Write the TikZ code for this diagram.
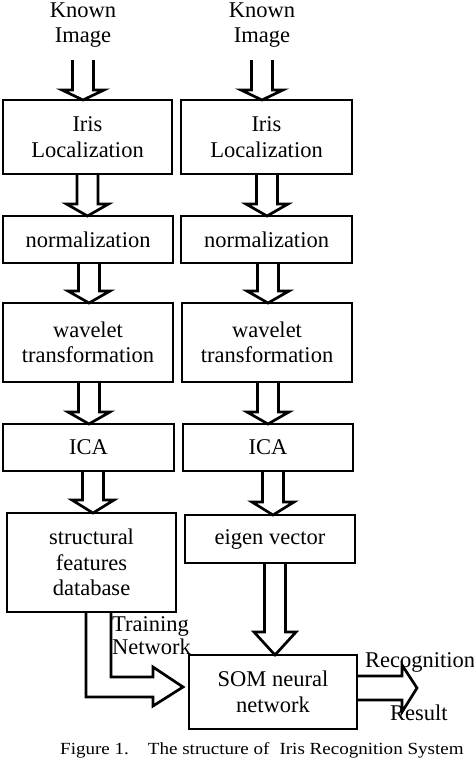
\documentclass[tikz,border=0pt]{standalone}
\usepackage{fontspec}
\setmainfont{Liberation Serif}
\newfontfamily\capfont[FakeStretch=1.12]{Liberation Serif}
\usetikzlibrary{calc}

\newcommand{\flowdown}[4]{%
	\draw[flow] let \p1=(#3.south), \p2=(#4.north) in
		(\x1+#1-10.5,\y1) -- (\x1+#1-10.5,\y2+#2) -- (\x1+#1-21,\y2+#2) -- (\x1+#1,\y2)
		-- (\x1+#1+21,\y2+#2) -- (\x1+#1+10.5,\y2+#2) -- (\x1+#1+10.5,\y1);
}

\begin{document}
\begin{tikzpicture}[x=1pt, y=1pt,
		every node/.style={font=\fontsize{22.5}{25.5}\selectfont},
		box/.style={draw, line width=2.9pt, inner sep=0pt, outer sep=0pt, align=center},
		flow/.style={line width=2.7pt, line join=miter}]
		\useasboundingbox (0,0) rectangle (474,-758);

		\node[align=center, inner xsep=0pt, inner ysep=12pt, anchor=south] (known1) at (83,-60) {Known\\Image};
		\node[align=center, inner xsep=0pt, inner ysep=12pt, anchor=south] (known2) at (262,-60) {Known\\Image};

		\node[box, minimum width=169pt, minimum height=74pt] (iris1) at (87.5,-137) {Iris\\Localization};
		\node[box, minimum width=171pt, minimum height=74pt] (iris2) at (266.5,-137) {Iris\\Localization};
		\node[box, minimum width=170pt, minimum height=47pt] (norm1) at (88,-239.5) {normalization};
		\node[box, minimum width=171pt, minimum height=47pt] (norm2) at (266.5,-239.5) {normalization};
		\node[box, minimum width=170pt, minimum height=79pt] (wave1) at (88,-342.5) {wavelet\\transformation};
		\node[box, minimum width=170pt, minimum height=79pt] (wave2) at (267,-342.5) {wavelet\\transformation};
		\node[box, minimum width=171pt, minimum height=47pt] (ica1) at (88.5,-447.5) {ICA};
		\node[box, minimum width=170pt, minimum height=47pt] (ica2) at (268,-447.5) {ICA};
		\node[box, minimum width=169pt, minimum height=99pt] (struct) at (91.5,-562.5) {structural\\features\\database};
		\node[box, minimum width=170pt, minimum height=48pt] (eigen) at (270,-539) {eigen vector};
		\node[box, minimum width=168pt, minimum height=74pt] (som) at (273,-692) {SOM neural\\network};
		\coordinate (result) at (417,-688);

		\node[align=left, inner sep=0pt, anchor=west, font=\fontsize{22.5}{23.3}\selectfont] (train) at (112,-636) {Training\\Network};
		\node[inner sep=0pt, anchor=base west] (recog) at (365,-667) {Recognition};
		\node[inner sep=0pt, anchor=base west] (res) at (390,-720) {Result};
		\node[inner sep=0pt, anchor=base west, font=\capfont\fontsize{17}{20}\selectfont] (caption) at (60,-754)
			{Figure 1.\hspace{19pt}The structure of\hspace{10pt}Iris Recognition System};

		\flowdown{0}{10}{known1}{iris1}
		\flowdown{0}{10}{known2}{iris2}
		\flowdown{0}{12}{iris1}{norm1}
		\flowdown{0.5}{12}{iris2}{norm2}
		\flowdown{1}{12}{norm1}{wave1}
		\flowdown{1.5}{12}{norm2}{wave2}
		\flowdown{1}{12}{wave1}{ica1}
		\flowdown{1}{12}{wave2}{ica2}
		\flowdown{4.5}{13}{ica1}{struct}
		\flowdown{5}{13}{ica2}{eigen}
		\flowdown{5}{23}{eigen}{som}

		\draw[flow] let \p1=(struct.south), \p2=(som.west) in
			(\x1-5.5,\y1) -- (\x1-5.5,\y2-5) -- (\x2-36,\y2-5) -- (\x2-36,\y2-14) -- (\x2-6,\y2+5)
			-- (\x2-36,\y2+25) -- (\x2-36,\y2+15) -- (\x1+19.5,\y2+15) -- (\x1+19.5,\y1);
		\draw[flow] let \p1=(som.east), \p2=(result) in
			(\x1,\y2+12) -- (\x2-15,\y2+12) -- (\x2-15,\y2+23) -- (\x2,\y2)
			-- (\x2-15,\y2-24) -- (\x2-15,\y2-12) -- (\x1,\y2-12);
	\end{tikzpicture}
\end{document}
